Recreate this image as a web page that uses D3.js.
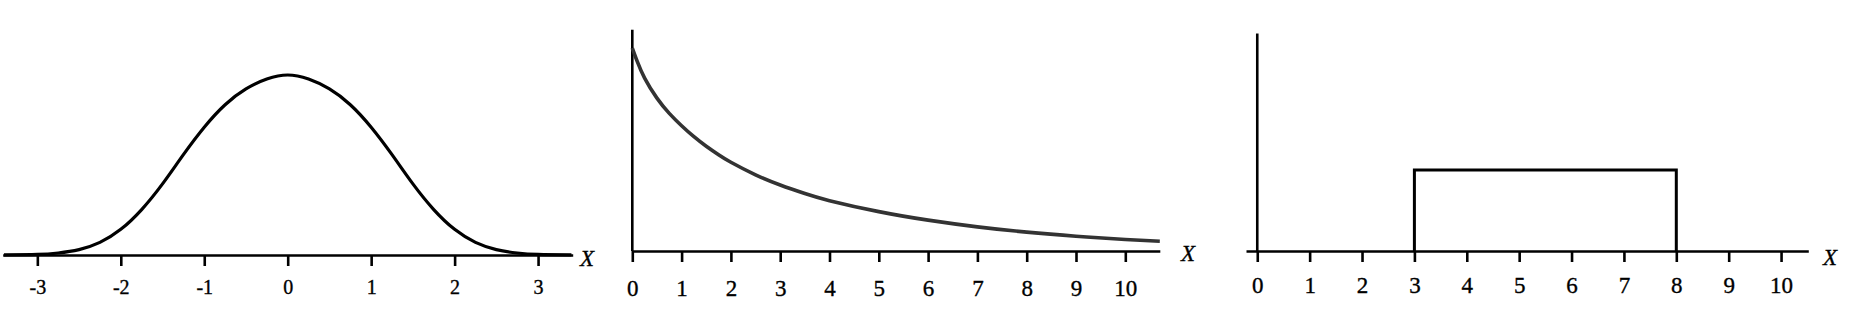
<!DOCTYPE html>
<html>
<head>
<meta charset="utf-8">
<script src="https://cdn.jsdelivr.net/npm/d3@7"></script>
<style>
  html, body { margin: 0; padding: 0; background: #fff; }
  svg { display: block; }
</style>
</head>
<body>
<svg id="chart" width="1852" height="320"></svg>
<script>
// ---------- data ----------
// Panel 1: bell-shaped (normal) curve
const normalX = [-3.4, -3.0, -2.75, -2.5, -2.25, -2.0, -1.75, -1.5, -1.25, -1.0, -0.75, -0.5, -0.25, 0,
                 0.25, 0.5, 0.75, 1.0, 1.25, 1.5, 1.75, 2.0, 2.25, 2.5, 2.75, 3.0, 3.4];
const normalY = [0.0003, 0.0012, 0.0045, 0.012, 0.028, 0.057, 0.101, 0.158, 0.223, 0.284, 0.334, 0.369, 0.391, 0.400,
                 0.391, 0.369, 0.334, 0.284, 0.223, 0.158, 0.101, 0.057, 0.028, 0.012, 0.0045, 0.0012, 0.0003];
const normalTicks = [-3, -2, -1, 0, 1, 2, 3];
const normalDomain = [-3.415, 3.415];

// Panel 2: decaying (exponential-like) curve
const expX = [0, 0.1, 0.25, 0.5, 0.75, 1, 1.25, 1.5, 1.75, 2, 2.5, 3, 3.5, 4, 5, 6, 7, 8, 9, 10, 10.7];
const expY = [1.0, 0.934, 0.852, 0.753, 0.678, 0.617, 0.563, 0.516, 0.474, 0.437, 0.375, 0.325, 0.283, 0.248,
              0.194, 0.152, 0.119, 0.093, 0.073, 0.057, 0.048];
const expTicks = [0, 1, 2, 3, 4, 5, 6, 7, 8, 9, 10];
const expDomain = [0, 10.7];
const expYTop = 1.09;

// Panel 3: uniform distribution on [3, 8]
const uniformX = [3, 8];
const uniformHeight = 0.2;
const uniformTicks = [0, 1, 2, 3, 4, 5, 6, 7, 8, 9, 10];
const uniformDomain = [-0.215, 10.52];
const uniformYTop = 0.537;

const axisLabel = "X";

// ---------- drawing ----------
const svg = d3.select("#chart");
const AXIS_W = 2.6;
const SERIF = '"Liberation Serif", "Times New Roman", serif';

function drawXAxis(g, x, ticks, yPix, fontSize, labelOffset) {
  const ax = d3.axisBottom(x).tickValues(ticks).tickSize(11).tickSizeOuter(0)
    .tickFormat(d => String(d));
  const a = g.append("g").attr("transform", `translate(0,${yPix})`).call(ax);
  a.select(".domain").attr("stroke", "#000").attr("stroke-width", AXIS_W);
  a.selectAll(".tick line").attr("stroke", "#000").attr("stroke-width", 2.6);
  a.selectAll(".tick text")
    .attr("font-size", fontSize)
    .attr("y", labelOffset)
    .attr("dy", "0.35em")
    .attr("fill", "#000")
    .attr("stroke", "#000")
    .attr("stroke-width", 0.35)
    .style("font-family", SERIF);
  return a;
}

function drawXLabel(g, xPix, yPix) {
  g.append("text")
    .attr("x", xPix).attr("y", yPix).attr("dy", "0.35em")
    .attr("text-anchor", "middle")
    .attr("font-family", SERIF)
    .attr("font-style", "italic")
    .attr("font-size", 23)
    .attr("fill", "#000")
    .attr("stroke", "#000")
    .attr("stroke-width", 0.3)
    .text(axisLabel);
}

const smooth = d3.curveNatural;

// Panel 1
{
  const g = svg.append("g");
  const x = d3.scaleLinear().domain(normalDomain).range([2.7, 572.7]);
  const y = d3.scaleLinear().domain([0, 0.4]).range([255, 75]);
  drawXAxis(g, x, normalTicks, 255, 20, 31.5);
  const pts = normalX.map((v, i) => [v, normalY[i]]);
  g.append("path")
    .datum(pts)
    .attr("fill", "none").attr("stroke", "#000").attr("stroke-width", 3.2)
    .attr("d", d3.line().x(d => x(d[0])).y(d => y(d[1])).curve(smooth));
  drawXLabel(g, 587, 258);
}

// Panel 2
{
  const g = svg.append("g");
  const x = d3.scaleLinear().domain(expDomain).range([632.3, 632.3 + 10.7 * 49.3]);
  const y = d3.scaleLinear().domain([0, 1]).range([251, 48]);
  drawXAxis(g, x, expTicks, 251, 23, 37);
  g.append("line")
    .attr("x1", x(0)).attr("x2", x(0))
    .attr("y1", y(0)).attr("y2", y(expYTop))
    .attr("stroke", "#000").attr("stroke-width", AXIS_W);
  const pts = expX.map((v, i) => [v, expY[i]]);
  g.append("path")
    .datum(pts)
    .attr("fill", "none").attr("stroke", "#333").attr("stroke-width", 3.6)
    .attr("d", d3.line().x(d => x(d[0])).y(d => y(d[1])).curve(smooth));
  drawXLabel(g, 1188, 253);
}

// Panel 3
{
  const g = svg.append("g");
  const x = d3.scaleLinear().domain(uniformDomain).range([1246, 1808.3]);
  const y = d3.scaleLinear().domain([0, uniformHeight]).range([251, 170]);
  drawXAxis(g, x, uniformTicks, 251, 23, 34);
  g.append("line")
    .attr("x1", x(0)).attr("x2", x(0))
    .attr("y1", y(0)).attr("y2", y(uniformYTop))
    .attr("stroke", "#000").attr("stroke-width", AXIS_W);
  const rectPts = [[uniformX[0], 0], [uniformX[0], uniformHeight], [uniformX[1], uniformHeight], [uniformX[1], 0]];
  g.append("path")
    .datum(rectPts)
    .attr("fill", "none").attr("stroke", "#000").attr("stroke-width", 3)
    .attr("d", d3.line().x(d => x(d[0])).y(d => y(d[1])));
  drawXLabel(g, 1830, 257);
}
</script>
</body>
</html>
